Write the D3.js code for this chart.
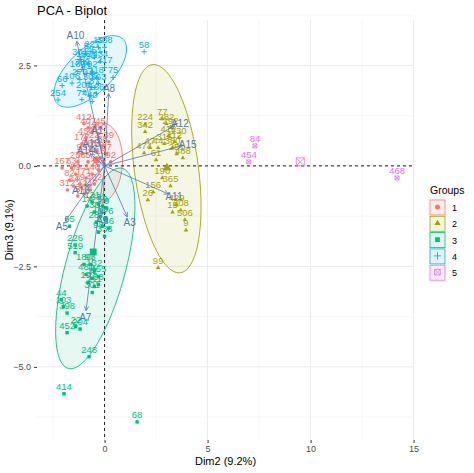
<!DOCTYPE html>
<html><head><meta charset="utf-8">
<script src="https://cdn.jsdelivr.net/npm/d3@7"></script>
<style>body{margin:0;background:#fff}svg{font-family:"Liberation Sans",Arial,sans-serif}</style>
</head><body><svg id="c" width="474" height="473"></svg>
<script>
const groups = ["1","2","3","4","5"];
const colors = ["#F8766D","#A3A500","#00BF7D","#00B0F6","#E76BF3"];
const xTicks = [0,5,10,15];
const yTicks = [2.5,0,-2.5,-5];
const xMinor = [-2.5,2.5,7.5,12.5];
const yMinor = [3.75,1.25,-1.25,-3.75,-6.25];

const g1 = [[-2.06,-0.05,"167"],[-1.0,1.05,"412"],[-0.8,0.95,"407"],[-0.6,0.85,"13"],[-0.9,0.7,"450"],[-0.5,0.6,"22"],[-0.3,0.8,"310"],[-0.1,0.5,"88"],[0.1,0.3,"47"],[-0.7,0.4,"301"],[-1.1,0.3,"95"],[-1.3,0.1,"256"],[-1.6,-0.05,"63"],[-1.4,-0.2,"89"],[-1.7,-0.35,"82"],[-1.5,-0.5,"34"],[-1.2,-0.45,"19"],[-0.9,-0.3,"71"],[-0.6,-0.2,"140"],[-0.3,-0.1,"205"],[-0.2,0.2,"18"],[0.2,0.6,"39"],[-0.4,0.35,"270"],[-1.0,-0.7,"360"],[-0.7,-0.6,"117"],[-1.3,-0.75,"3"],[-0.8,0.1,"5"],[-1.1,0.55,"177"],[0.3,0.1,"92"],[-0.5,-0.45,"402"],[-1.8,-0.6,"312"],[-0.2,0.95,"45"]];
const g2 = [[1.97,1.04,"224"],[1.97,0.85,"342"],[2.8,1.17,"77"],[3.0,1.05,"282"],[3.2,0.95,"292"],[3.1,0.75,"412"],[3.4,0.6,"112"],[2.9,0.55,"316"],[3.3,0.45,"380"],[2.6,0.45,"44"],[2.2,0.45,"47"],[1.92,0.32,"474"],[3.6,0.7,"230"],[3.5,0.3,"251"],[2.36,-0.65,"156"],[2.1,-0.85,"26"],[3.5,-0.97,"429"],[3.7,-1.1,"208"],[3.3,-1.15,"15"],[3.9,-1.34,"506"],[3.95,-1.6,"9"],[2.6,-2.53,"99"],[2.8,-0.3,"190"],[3.2,-0.5,"365"],[2.5,0.15,"61"],[3.8,0.2,"488"]];
const g3 = [[-0.6,-0.9,"121"],[-0.3,-0.95,"331"],[-0.1,-1.0,"59"],[0.1,-1.05,"9"],[-0.5,-1.15,"36"],[-0.2,-1.25,"160"],[0.05,-1.3,"176"],[-0.4,-1.4,"287"],[-0.1,-1.5,"76"],[0.2,-1.55,"46"],[-0.3,-1.65,"98"],[0.0,-1.75,"333"],[-0.85,-1.0,"14"],[-1.43,-1.97,"226"],[-1.43,-2.16,"519"],[-1.7,-1.5,"65"],[-1.0,-2.45,"180"],[-0.7,-2.45,"93"],[-0.5,-2.6,"132"],[-0.9,-2.7,"480"],[-0.6,-2.8,"12"],[-0.3,-2.75,"455"],[-0.8,-2.9,"197"],[-0.5,-3.0,"211"],[-0.3,-2.95,"38"],[-0.6,-3.15,"301"],[-2.1,-3.33,"44"],[-2.0,-3.5,"103"],[-1.82,-3.66,"398"],[-1.82,-4.15,"452"],[-1.19,-4.06,"204"],[-1.4,-4.0,"22"],[-0.75,-4.75,"248"],[-1.97,-5.67,"414"],[1.58,-6.37,"68"]];
const g4 = [[1.92,2.84,"58"],[0.41,2.2,"75"],[-1.58,2.06,"106"],[-2.06,2.0,"66"],[-2.26,1.64,"254"],[0.0,2.95,"338"],[-0.3,2.95,"19"],[-1.2,2.65,"301"],[-1.0,2.6,"152"],[-0.8,2.55,"490"],[-0.5,2.7,"451"],[-0.2,2.6,"434"],[0.0,2.45,"217"],[-1.1,2.4,"309"],[-0.9,2.3,"41"],[-0.6,2.35,"92"],[-0.4,2.2,"118"],[-1.2,2.15,"270"],[-0.8,2.05,"30"],[-0.5,1.95,"87"],[-0.3,2.05,"363"],[-1.0,1.85,"201"],[-0.7,1.75,"7"],[-0.4,1.8,"166"],[-1.1,1.65,"74"],[-0.6,1.6,"40"],[-0.9,2.8,"5"],[-0.6,2.85,"227"],[-1.3,2.35,"183"]];
const g5 = [[7.3,0.5,"84"],[7.0,0.1,"454"],[14.2,-0.3,"468"]];
const pointsByGroup = [g1,g2,g3,g4,g5];
const centroids = [[-0.4,0.15],[3.03,-0.05],[-0.55,-2.14],[-0.6,2.3],[9.5,0.1]];
// ellipse: center, semi-axis vectors (data units)
const ellipses = [
  {c:[-0.2,0.07],u:[0.08,1.0],v:[1.07,0]},
  {c:[3.0,-0.07],u:[-0.68,2.59],v:[1.54,0.107]},
  {c:[-0.45,-2.55],u:[1.31,2.49],v:[1.41,-0.19]},
  {c:[-0.7,2.35],u:[1.6,0.8],v:[-0.75,0.39]}
];
const arrowNames = ["A10","A8","A12","A15","A11","A3","A7","A5","A16","A13","A1","A9","A14"];
const arrowX = [-1.35,0.2,3.4,3.75,3.1,1.1,-0.9,-1.9,-0.95,-0.5,-0.3,-0.1,-0.7];
const arrowY = [3.1,1.8,1.0,0.5,-0.7,-1.27,-3.6,-1.37,-0.5,0.45,0.75,-1.2,0.3];

const svg = d3.select("#c");
const L=37,R=414,T=20,B=440;
const x = d3.scaleLinear().domain([-3.28,15.02]).range([L,R]);
const y = d3.scaleLinear().domain([3.63,-6.82]).range([T,B]);

svg.append("text").attr("x",37).attr("y",15).attr("font-size",13).attr("fill","#000").text("PCA - Biplot");

const grid = svg.append("g");
xMinor.forEach(v=>grid.append("line").attr("x1",x(v)).attr("x2",x(v)).attr("y1",T).attr("y2",B).attr("stroke","#F2F2F2").attr("stroke-width",0.6));
yMinor.forEach(v=>grid.append("line").attr("y1",y(v)).attr("y2",y(v)).attr("x1",L).attr("x2",R).attr("stroke","#F2F2F2").attr("stroke-width",0.6));
xTicks.forEach(v=>grid.append("line").attr("x1",x(v)).attr("x2",x(v)).attr("y1",T).attr("y2",B).attr("stroke","#EBEBEB").attr("stroke-width",1));
yTicks.forEach(v=>grid.append("line").attr("y1",y(v)).attr("y2",y(v)).attr("x1",L).attr("x2",R).attr("stroke","#EBEBEB").attr("stroke-width",1));

const xa = svg.append("g").attr("transform",`translate(0,${B})`).call(d3.axisBottom(x).tickValues(xTicks).tickSize(3).tickFormat(d3.format("d")));
const ya = svg.append("g").attr("transform",`translate(${L},0)`).call(d3.axisLeft(y).tickValues(yTicks).tickSize(3).tickFormat(d3.format(".1f")));
[xa,ya].forEach(a=>{a.select(".domain").remove();a.selectAll("line").attr("stroke","#333");a.selectAll("text").attr("fill","#4D4D4D").attr("font-size",9);});
svg.append("text").attr("x",(L+R)/2).attr("y",465).attr("text-anchor","middle").attr("font-size",11).text("Dim2 (9.2%)");
svg.append("text").attr("transform",`translate(13,${(T+B)/2}) rotate(-90)`).attr("text-anchor","middle").attr("font-size",11).text("Dim3 (9.1%)");

// ellipses
ellipses.forEach((e,i)=>{
  const pts=d3.range(0,101).map(k=>{const t=k/100*2*Math.PI;return [x(e.c[0]+e.u[0]*Math.cos(t)+e.v[0]*Math.sin(t)),y(e.c[1]+e.u[1]*Math.cos(t)+e.v[1]*Math.sin(t))];});
  svg.append("path").attr("d",d3.line()(pts)+"Z").attr("fill",colors[i]).attr("fill-opacity",0.1).attr("stroke",colors[i]).attr("stroke-width",0.9);
});

// dashed zero lines
svg.append("line").attr("x1",L).attr("x2",R).attr("y1",y(0)).attr("y2",y(0)).attr("stroke","#222").attr("stroke-dasharray","3,3").attr("stroke-width",1);
svg.append("line").attr("x1",x(0)).attr("x2",x(0)).attr("y1",T).attr("y2",B).attr("stroke","#222").attr("stroke-dasharray","3,3").attr("stroke-width",1);

function drawShape(sel,gi,cx,cy,s){
  const c=colors[gi];
  if(gi===0) sel.append("circle").attr("cx",cx).attr("cy",cy).attr("r",s*0.9).attr("fill",c);
  else if(gi===1) sel.append("path").attr("transform",`translate(${cx},${cy})`).attr("d",d3.symbol(d3.symbolTriangle,s*s*2.2)()).attr("fill",c);
  else if(gi===2) sel.append("rect").attr("x",cx-s*0.85).attr("y",cy-s*0.85).attr("width",s*1.7).attr("height",s*1.7).attr("fill",c);
  else if(gi===3) sel.append("path").attr("d",`M${cx-s*1.3},${cy}H${cx+s*1.3}M${cx},${cy-s*1.3}V${cy+s*1.3}`).attr("stroke",c).attr("stroke-width",0.9);
  else sel.append("path").attr("d",`M${cx-s},${cy-s}h${2*s}v${2*s}h${-2*s}ZM${cx-s},${cy-s}L${cx+s},${cy+s}M${cx+s},${cy-s}L${cx-s},${cy+s}`).attr("stroke",c).attr("fill","none").attr("stroke-width",0.8);
}

const pg = svg.append("g");
pointsByGroup.forEach((pts,gi)=>{
  pts.forEach(p=>{
    drawShape(pg,gi,x(p[0]),y(p[1]),2);
    pg.append("text").attr("x",x(p[0])).attr("y",y(p[1])-4).attr("text-anchor","middle").attr("font-size",9.5).attr("fill",colors[gi]).text(p[2]);
  });
  drawShape(pg,gi,x(centroids[gi][0]),y(centroids[gi][1]),4);
});

// arrows
const ag = svg.append("g");
const ac = "#4F79B4";
arrowNames.forEach((n,i)=>{
  const x1=x(0),y1=y(0),x2=x(arrowX[i]),y2=y(arrowY[i]);
  ag.append("line").attr("x1",x1).attr("y1",y1).attr("x2",x2).attr("y2",y2).attr("stroke",ac).attr("stroke-width",0.8);
  const a=Math.atan2(y2-y1,x2-x1),h=5;
  ag.append("path").attr("d",`M${x2-h*Math.cos(a-0.45)},${y2-h*Math.sin(a-0.45)}L${x2},${y2}L${x2-h*Math.cos(a+0.45)},${y2-h*Math.sin(a+0.45)}`).attr("stroke",ac).attr("fill","none").attr("stroke-width",0.8);
  ag.append("text").attr("x",x2+Math.cos(a)*6).attr("y",y2+Math.sin(a)*6+4).attr("text-anchor","middle").attr("font-size",10).attr("fill",ac).text(n);
});

// legend
const lg = svg.append("g");
lg.append("text").attr("x",430).attr("y",194).attr("font-size",10.5).text("Groups");
groups.forEach((gname,i)=>{
  const yy=200+i*16.3;
  lg.append("rect").attr("x",430).attr("y",yy).attr("width",15).attr("height",15).attr("fill",colors[i]).attr("fill-opacity",0.12).attr("stroke",colors[i]).attr("stroke-width",0.8);
  drawShape(lg,i,437.5,yy+7,2.8);
  lg.append("text").attr("x",452).attr("y",yy+11).attr("font-size",9).attr("fill","#000").text(gname);
});
</script></body></html>
